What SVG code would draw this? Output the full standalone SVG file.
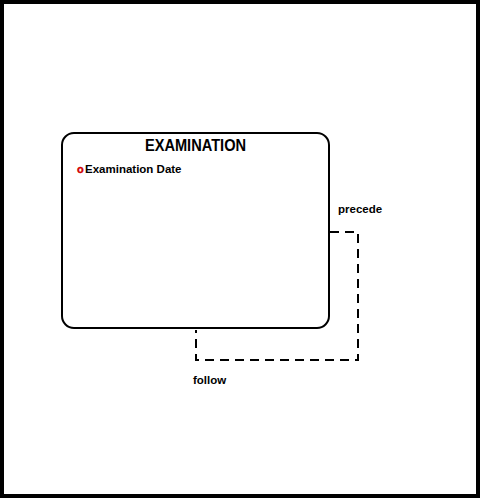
<svg xmlns="http://www.w3.org/2000/svg" width="480" height="498" viewBox="0 0 480 498">
<style>
.lbl{font-family:"Liberation Sans",Arial,sans-serif;font-weight:bold;font-size:11.5px;fill:#000}
.title{font-family:"Liberation Sans",Arial,sans-serif;font-weight:bold;font-size:17px;fill:#000}
.rel{fill:none;stroke:#000;stroke-width:2;stroke-dasharray:9,6}
</style>
<rect x="0" y="0" width="480" height="498" fill="#fff"/>
<rect x="2" y="2" width="476" height="494" fill="none" stroke="#000" stroke-width="4"/>
<g id="connectors">
<path class="rel" d="M330,232 H358 V360 H196 V330"/>
<text class="lbl" x="338" y="213">precede</text>
<text class="lbl" x="193" y="384">follow</text>
</g>
<g id="examination">
<rect x="62" y="133" width="267" height="195" rx="12" ry="12" fill="#fff" stroke="#000" stroke-width="2"/>
<text class="title" x="195.5" y="151" text-anchor="middle" transform="translate(195.5 0) scale(0.86 1) translate(-195.5 0)">EXAMINATION</text>
<text x="77" y="173" font-family="Liberation Sans,Arial,sans-serif" font-weight="bold" font-size="11" fill="#d00000" stroke="#d00000" stroke-width="0.4">o</text>
<text class="lbl" x="85" y="173">Examination Date</text>
</g>
</svg>
